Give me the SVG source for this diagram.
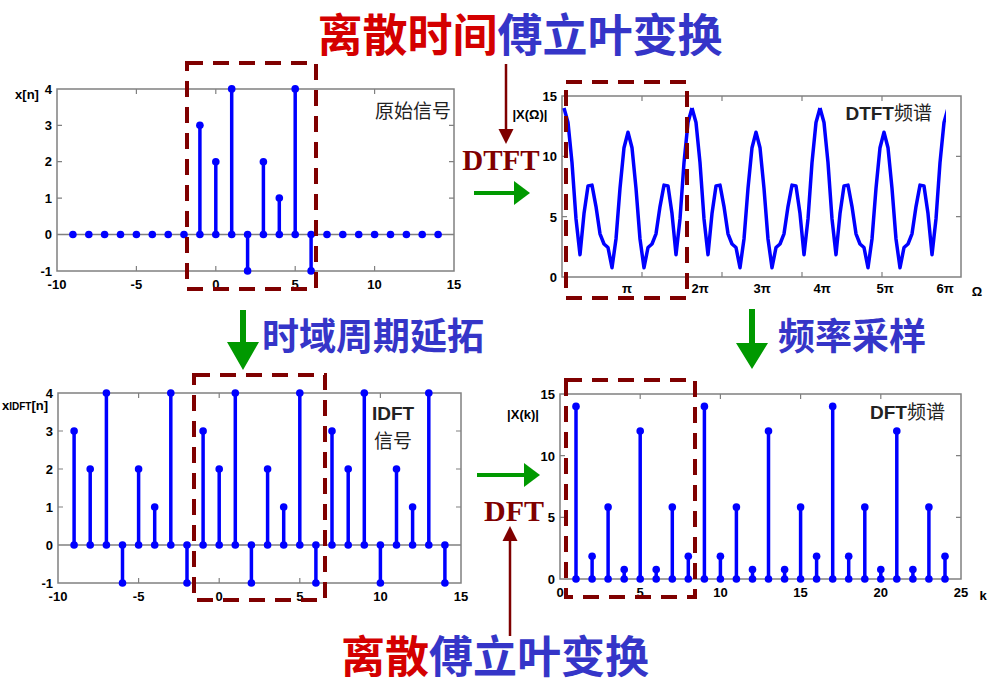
<svg xmlns="http://www.w3.org/2000/svg" xmlns:xlink="http://www.w3.org/1999/xlink" width="997" height="687" viewBox="0 0 997 687">
<style>
.ax{fill:#fff;stroke:#808080;stroke-width:1.5}
.tk{stroke:#808080;stroke-width:1.2;fill:none}
.zl{stroke:#808080;stroke-width:1.5}
.st line{stroke:#0000ff;stroke-width:3.5}
.st circle{fill:#0000ff}
.tl{font-family:"Liberation Sans",Arial,sans-serif;font-weight:bold;font-size:13px;fill:#000}
.box{fill:none;stroke:#7f0000;stroke-width:4;stroke-dasharray:16,10}
.cjk{font-family:"Noto Sans CJK SC",sans-serif;font-weight:bold}
.lab{font-family:"Liberation Sans","Noto Sans CJK SC",sans-serif;font-size:19px;fill:#222}
.ser{font-family:"Liberation Serif",serif;font-weight:bold;fill:#7f0000}
.grn{stroke:#009900;stroke-width:4;fill:none}
.red{stroke:#7f0000;stroke-width:2.5;fill:none}
</style>
<defs>
<marker id="ga" markerWidth="6" markerHeight="6" refX="1" refY="3" orient="auto" markerUnits="strokeWidth"><path d="M0,0L4,3L0,6z" fill="#009900"/></marker>
<marker id="ra" markerWidth="8" markerHeight="8" refX="2" refY="4" orient="auto" markerUnits="strokeWidth"><path d="M0,1L6,4L0,7z" fill="#7f0000"/></marker>
<polyline id="per" fill="none" stroke="#0000ff" stroke-width="3.5" stroke-linejoin="round" points="564,108 568,122.5 572,162.7 576,218.9 580,254.7 584,213.6 588,185.9 592,185.1 596,206.6 600,233.8 604,244 608,247.5 612,267.7 616,239 620,188.4 624,147.7 628,132.2 632,147.7 636,188.4 640,239 644,267.7 648,247.5 652,244 656,233.8 660,206.6 664,185.1 668,185.9 672,213.6 676,254.7 680,218.9 684,162.7 688,122.5 692,108"/>
<clipPath id="cp"><rect x="560" y="90" width="386" height="190"/></clipPath>
</defs>

<!-- Titles -->
<g id="title-top"><text x="520" y="52" text-anchor="middle" class="cjk" font-size="45"><tspan fill="#d40000">离散时间</tspan><tspan fill="#3535c8">傅立叶变换</tspan></text></g>
<g id="title-bottom"><text x="495" y="673" text-anchor="middle" class="cjk" font-size="44"><tspan fill="#d40000">离散</tspan><tspan fill="#3535c8">傅立叶变换</tspan></text></g>

<!-- Plot 1: original signal -->
<g id="plot-xn">
<rect class="ax" x="57" y="89" width="397" height="182"/>
<line class="zl" x1="57" y1="234.5" x2="454" y2="234.5"/>
<path class="tk" d="M136.4 271v-5M215.8 271v-5M295.2 271v-5M374.6 271v-5M136.4 89v5M215.8 89v5M295.2 89v5M374.6 89v5M57 125.3h5M57 161.7h5M57 198.1h5M57 234.5h5M454 125.3h-5M454 161.7h-5M454 198.1h-5M454 234.5h-5"/>
<g class="st">
<line x1="199.9" y1="234.5" x2="199.9" y2="125.3"/><line x1="215.8" y1="234.5" x2="215.8" y2="161.7"/><line x1="231.7" y1="234.5" x2="231.7" y2="88.9"/><line x1="247.6" y1="234.5" x2="247.6" y2="270.9"/><line x1="263.4" y1="234.5" x2="263.4" y2="161.7"/><line x1="279.3" y1="234.5" x2="279.3" y2="198.1"/><line x1="295.2" y1="234.5" x2="295.2" y2="88.9"/><line x1="311.1" y1="234.5" x2="311.1" y2="270.9"/>
<circle cx="199.9" cy="125.3" r="3.8"/><circle cx="215.8" cy="161.7" r="3.8"/><circle cx="231.7" cy="88.9" r="3.8"/><circle cx="247.6" cy="270.9" r="3.8"/><circle cx="263.4" cy="161.7" r="3.8"/><circle cx="279.3" cy="198.1" r="3.8"/><circle cx="295.2" cy="88.9" r="3.8"/><circle cx="311.1" cy="270.9" r="3.8"/>
<circle cx="72.9" cy="234.5" r="3.8"/><circle cx="88.8" cy="234.5" r="3.8"/><circle cx="104.6" cy="234.5" r="3.8"/><circle cx="120.5" cy="234.5" r="3.8"/><circle cx="136.4" cy="234.5" r="3.8"/><circle cx="152.3" cy="234.5" r="3.8"/><circle cx="168.2" cy="234.5" r="3.8"/><circle cx="184" cy="234.5" r="3.8"/><circle cx="199.9" cy="234.5" r="3.8"/><circle cx="215.8" cy="234.5" r="3.8"/><circle cx="231.7" cy="234.5" r="3.8"/><circle cx="247.6" cy="234.5" r="3.8"/><circle cx="263.4" cy="234.5" r="3.8"/><circle cx="279.3" cy="234.5" r="3.8"/><circle cx="295.2" cy="234.5" r="3.8"/><circle cx="311.1" cy="234.5" r="3.8"/><circle cx="327" cy="234.5" r="3.8"/><circle cx="342.8" cy="234.5" r="3.8"/><circle cx="358.7" cy="234.5" r="3.8"/><circle cx="374.6" cy="234.5" r="3.8"/><circle cx="390.5" cy="234.5" r="3.8"/><circle cx="406.4" cy="234.5" r="3.8"/><circle cx="422.2" cy="234.5" r="3.8"/><circle cx="438.1" cy="234.5" r="3.8"/>
</g>
<g class="tl" text-anchor="end"><text x="52" y="94">4</text><text x="52" y="130">3</text><text x="52" y="166">2</text><text x="52" y="203">1</text><text x="52" y="239">0</text><text x="52" y="276">-1</text></g>
<g class="tl" text-anchor="middle"><text x="57" y="289">-10</text><text x="136.4" y="289">-5</text><text x="215.8" y="289">0</text><text x="295.2" y="289">5</text><text x="374.6" y="289">10</text><text x="454" y="289">15</text></g>
<text class="tl" x="27" y="99" text-anchor="middle">x[n]</text>
<text class="lab" x="451" y="118" text-anchor="end">原始信号</text>
<rect class="box" x="187" y="63" width="129" height="226"/>
</g>

<!-- Plot 2: DTFT -->
<g id="plot-dtft">
<rect class="ax" x="562" y="96" width="399" height="181"/>
<path class="tk" d="M642 277v-5M722 277v-5M802 277v-5M882 277v-5M642 96v5M722 96v5M802 96v5M882 96v5M562 156.3h5M562 216.7h5M961 156.3h-5M961 216.7h-5"/>
<use xlink:href="#per"/>
<use xlink:href="#per" transform="translate(128,0)"/>
<g clip-path="url(#cp)"><use xlink:href="#per" transform="translate(256,0)"/></g>
<g class="tl" text-anchor="end"><text x="557" y="101">15</text><text x="557" y="161">10</text><text x="557" y="222">5</text><text x="557" y="282">0</text></g>
<g class="tl" text-anchor="middle"><text x="627" y="293">π</text><text x="700" y="293">2π</text><text x="762" y="293">3π</text><text x="822" y="293">4π</text><text x="885" y="293">5π</text><text x="945" y="293">6π</text><text x="977" y="296">Ω</text></g>
<text class="tl" x="530" y="119" text-anchor="middle" font-size="12" font-weight="normal">|X(Ω)|</text>
<text class="lab" x="932" y="120" text-anchor="end" fill="#000"><tspan font-weight="bold" font-family="Liberation Sans,sans-serif">DTFT</tspan>频谱</text>
<rect class="box" x="566" y="82" width="121" height="216"/>
</g>

<!-- Plot 3: IDFT -->
<g id="plot-idft">
<rect class="ax" x="58" y="393" width="403" height="190"/>
<line class="zl" x1="58" y1="545" x2="461" y2="545"/>
<path class="tk" d="M138.6 583v-5M219.2 583v-5M299.8 583v-5M380.4 583v-5M138.6 393v5M219.2 393v5M299.8 393v5M380.4 393v5M58 431h5M58 469h5M58 507h5M461 431h-5M461 469h-5M461 507h-5"/>
<g class="st">
<line x1="74.1" y1="545" x2="74.1" y2="431"/><line x1="90.2" y1="545" x2="90.2" y2="469"/><line x1="106.4" y1="545" x2="106.4" y2="393"/><line x1="122.5" y1="545" x2="122.5" y2="583"/><line x1="138.6" y1="545" x2="138.6" y2="469"/><line x1="154.7" y1="545" x2="154.7" y2="507"/><line x1="170.8" y1="545" x2="170.8" y2="393"/><line x1="187" y1="545" x2="187" y2="583"/>
<line x1="203.1" y1="545" x2="203.1" y2="431"/><line x1="219.2" y1="545" x2="219.2" y2="469"/><line x1="235.3" y1="545" x2="235.3" y2="393"/><line x1="251.4" y1="545" x2="251.4" y2="583"/><line x1="267.6" y1="545" x2="267.6" y2="469"/><line x1="283.7" y1="545" x2="283.7" y2="507"/><line x1="299.8" y1="545" x2="299.8" y2="393"/><line x1="315.9" y1="545" x2="315.9" y2="583"/>
<line x1="332" y1="545" x2="332" y2="431"/><line x1="348.2" y1="545" x2="348.2" y2="469"/><line x1="364.3" y1="545" x2="364.3" y2="393"/><line x1="380.4" y1="545" x2="380.4" y2="583"/><line x1="396.5" y1="545" x2="396.5" y2="469"/><line x1="412.6" y1="545" x2="412.6" y2="507"/><line x1="428.8" y1="545" x2="428.8" y2="393"/><line x1="444.9" y1="545" x2="444.9" y2="583"/>
<circle cx="74.1" cy="431" r="3.8"/><circle cx="90.2" cy="469" r="3.8"/><circle cx="106.4" cy="393" r="3.8"/><circle cx="122.5" cy="583" r="3.8"/><circle cx="138.6" cy="469" r="3.8"/><circle cx="154.7" cy="507" r="3.8"/><circle cx="170.8" cy="393" r="3.8"/><circle cx="187" cy="583" r="3.8"/>
<circle cx="203.1" cy="431" r="3.8"/><circle cx="219.2" cy="469" r="3.8"/><circle cx="235.3" cy="393" r="3.8"/><circle cx="251.4" cy="583" r="3.8"/><circle cx="267.6" cy="469" r="3.8"/><circle cx="283.7" cy="507" r="3.8"/><circle cx="299.8" cy="393" r="3.8"/><circle cx="315.9" cy="583" r="3.8"/>
<circle cx="332" cy="431" r="3.8"/><circle cx="348.2" cy="469" r="3.8"/><circle cx="364.3" cy="393" r="3.8"/><circle cx="380.4" cy="583" r="3.8"/><circle cx="396.5" cy="469" r="3.8"/><circle cx="412.6" cy="507" r="3.8"/><circle cx="428.8" cy="393" r="3.8"/><circle cx="444.9" cy="583" r="3.8"/>
<circle cx="74.1" cy="545" r="3.8"/><circle cx="90.2" cy="545" r="3.8"/><circle cx="106.4" cy="545" r="3.8"/><circle cx="122.5" cy="545" r="3.8"/><circle cx="138.6" cy="545" r="3.8"/><circle cx="154.7" cy="545" r="3.8"/><circle cx="170.8" cy="545" r="3.8"/><circle cx="187" cy="545" r="3.8"/><circle cx="203.1" cy="545" r="3.8"/><circle cx="219.2" cy="545" r="3.8"/><circle cx="235.3" cy="545" r="3.8"/><circle cx="251.4" cy="545" r="3.8"/><circle cx="267.6" cy="545" r="3.8"/><circle cx="283.7" cy="545" r="3.8"/><circle cx="299.8" cy="545" r="3.8"/><circle cx="315.9" cy="545" r="3.8"/><circle cx="332" cy="545" r="3.8"/><circle cx="348.2" cy="545" r="3.8"/><circle cx="364.3" cy="545" r="3.8"/><circle cx="380.4" cy="545" r="3.8"/><circle cx="396.5" cy="545" r="3.8"/><circle cx="412.6" cy="545" r="3.8"/><circle cx="428.8" cy="545" r="3.8"/><circle cx="444.9" cy="545" r="3.8"/>
</g>
<g class="tl" text-anchor="end"><text x="53" y="398">4</text><text x="53" y="436">3</text><text x="53" y="474">2</text><text x="53" y="512">1</text><text x="53" y="550">0</text><text x="53" y="588">-1</text></g>
<g class="tl" text-anchor="middle"><text x="58" y="601">-10</text><text x="138.6" y="601">-5</text><text x="219.2" y="601">0</text><text x="299.8" y="601">5</text><text x="380.4" y="601">10</text><text x="461" y="601">15</text></g>
<text class="tl" x="2" y="410">x<tspan font-size="10">IDFT</tspan>[n]</text>
<text class="lab" x="393" y="420" text-anchor="middle" fill="#000" font-family="Liberation Sans,sans-serif" font-weight="bold">IDFT</text>
<text class="lab" x="393" y="448" text-anchor="middle">信号</text>
<rect class="box" x="194" y="375" width="131" height="225"/>
</g>

<!-- Plot 4: DFT -->
<g id="plot-dft">
<rect class="ax" x="560" y="394" width="401" height="185"/>
<path class="tk" d="M640.2 579v-5M720.4 579v-5M800.6 579v-5M880.8 579v-5M640.2 394v5M720.4 394v5M800.6 394v5M880.8 394v5M560 455.7h5M560 517.3h5M961 455.7h-5M961 517.3h-5"/>
<g class="st">
<line x1="576" y1="579" x2="576" y2="406.4"/><line x1="592.1" y1="579" x2="592.1" y2="556.2"/><line x1="608.1" y1="579" x2="608.1" y2="507.1"/><line x1="624.2" y1="579" x2="624.2" y2="569.5"/><line x1="640.2" y1="579" x2="640.2" y2="431"/><line x1="656.2" y1="579" x2="656.2" y2="569.5"/><line x1="672.3" y1="579" x2="672.3" y2="507.1"/><line x1="688.3" y1="579" x2="688.3" y2="556.2"/>
<line x1="704.4" y1="579" x2="704.4" y2="406.4"/><line x1="720.4" y1="579" x2="720.4" y2="556.2"/><line x1="736.4" y1="579" x2="736.4" y2="507.1"/><line x1="752.5" y1="579" x2="752.5" y2="569.5"/><line x1="768.5" y1="579" x2="768.5" y2="431"/><line x1="784.6" y1="579" x2="784.6" y2="569.5"/><line x1="800.6" y1="579" x2="800.6" y2="507.1"/><line x1="816.6" y1="579" x2="816.6" y2="556.2"/>
<line x1="832.7" y1="579" x2="832.7" y2="406.4"/><line x1="848.7" y1="579" x2="848.7" y2="556.2"/><line x1="864.8" y1="579" x2="864.8" y2="507.1"/><line x1="880.8" y1="579" x2="880.8" y2="569.5"/><line x1="896.8" y1="579" x2="896.8" y2="431"/><line x1="912.9" y1="579" x2="912.9" y2="569.5"/><line x1="928.9" y1="579" x2="928.9" y2="507.1"/><line x1="945" y1="579" x2="945" y2="556.2"/>
<circle cx="576" cy="406.4" r="3.8"/><circle cx="592.1" cy="556.2" r="3.8"/><circle cx="608.1" cy="507.1" r="3.8"/><circle cx="624.2" cy="569.5" r="3.8"/><circle cx="640.2" cy="431" r="3.8"/><circle cx="656.2" cy="569.5" r="3.8"/><circle cx="672.3" cy="507.1" r="3.8"/><circle cx="688.3" cy="556.2" r="3.8"/>
<circle cx="704.4" cy="406.4" r="3.8"/><circle cx="720.4" cy="556.2" r="3.8"/><circle cx="736.4" cy="507.1" r="3.8"/><circle cx="752.5" cy="569.5" r="3.8"/><circle cx="768.5" cy="431" r="3.8"/><circle cx="784.6" cy="569.5" r="3.8"/><circle cx="800.6" cy="507.1" r="3.8"/><circle cx="816.6" cy="556.2" r="3.8"/>
<circle cx="832.7" cy="406.4" r="3.8"/><circle cx="848.7" cy="556.2" r="3.8"/><circle cx="864.8" cy="507.1" r="3.8"/><circle cx="880.8" cy="569.5" r="3.8"/><circle cx="896.8" cy="431" r="3.8"/><circle cx="912.9" cy="569.5" r="3.8"/><circle cx="928.9" cy="507.1" r="3.8"/><circle cx="945" cy="556.2" r="3.8"/>
<circle cx="576" cy="579" r="3.8"/><circle cx="592.1" cy="579" r="3.8"/><circle cx="608.1" cy="579" r="3.8"/><circle cx="624.2" cy="579" r="3.8"/><circle cx="640.2" cy="579" r="3.8"/><circle cx="656.2" cy="579" r="3.8"/><circle cx="672.3" cy="579" r="3.8"/><circle cx="688.3" cy="579" r="3.8"/><circle cx="704.4" cy="579" r="3.8"/><circle cx="720.4" cy="579" r="3.8"/><circle cx="736.4" cy="579" r="3.8"/><circle cx="752.5" cy="579" r="3.8"/><circle cx="768.5" cy="579" r="3.8"/><circle cx="784.6" cy="579" r="3.8"/><circle cx="800.6" cy="579" r="3.8"/><circle cx="816.6" cy="579" r="3.8"/><circle cx="832.7" cy="579" r="3.8"/><circle cx="848.7" cy="579" r="3.8"/><circle cx="864.8" cy="579" r="3.8"/><circle cx="880.8" cy="579" r="3.8"/><circle cx="896.8" cy="579" r="3.8"/><circle cx="912.9" cy="579" r="3.8"/><circle cx="928.9" cy="579" r="3.8"/><circle cx="945" cy="579" r="3.8"/>
</g>
<g class="tl" text-anchor="end"><text x="555" y="399">15</text><text x="555" y="461">10</text><text x="555" y="522">5</text><text x="555" y="584">0</text></g>
<g class="tl" text-anchor="middle"><text x="560" y="597">0</text><text x="640.2" y="597">5</text><text x="720.4" y="597">10</text><text x="800.6" y="597">15</text><text x="880.8" y="597">20</text><text x="961" y="597">25</text><text x="983" y="600">k</text></g>
<text class="tl" x="523" y="419" text-anchor="middle" font-size="12" font-weight="normal">|X(k)|</text>
<text class="lab" x="945" y="419" text-anchor="end" fill="#000"><tspan font-weight="bold" font-family="Liberation Sans,sans-serif">DFT</tspan>频谱</text>
<rect class="box" x="566" y="380" width="129" height="217"/>
</g>

<!-- Labels -->
<g id="label-dtft"><text class="ser" x="501" y="170" text-anchor="middle" font-size="29">DTFT</text></g>
<g id="label-dft"><text class="ser" x="514" y="521" text-anchor="middle" font-size="30">DFT</text></g>
<g id="label-periodic"><text class="cjk" x="262" y="350" font-size="37" fill="#3535c8">时域周期延拓</text></g>
<g id="label-sampling"><text class="cjk" x="778" y="350" font-size="37" fill="#3535c8">频率采样</text></g>

<!-- Connectors -->
<g id="connectors">
<line class="red" x1="506" y1="64" x2="506" y2="134" marker-end="url(#ra)"/>
<line class="red" x1="510" y1="636" x2="510" y2="536" marker-end="url(#ra)"/>
<line class="grn" x1="474" y1="193" x2="518" y2="193" marker-end="url(#ga)"/>
<line class="grn" x1="477" y1="475" x2="528" y2="475" marker-end="url(#ga)"/>
<path d="M240 310h6v32h13l-16 28l-16-28h13z" fill="#009900"/>
<path d="M749 309h6v34h13l-16 26l-16-26h13z" fill="#009900"/>
</g>
</svg>
